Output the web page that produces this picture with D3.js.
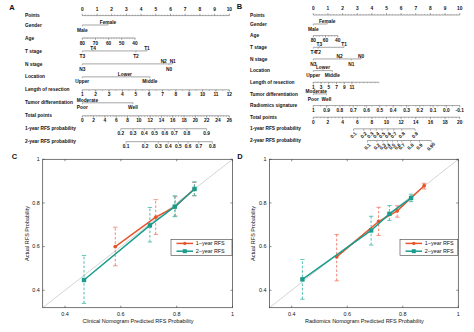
<!DOCTYPE html>
<html>
<head>
<meta charset="utf-8">
<script src="https://cdn.jsdelivr.net/npm/d3@7"></script>
<style>
body { margin: 0; background: #fff; }
svg { display: block; }
text { font-family: "Liberation Sans", Arial, sans-serif; fill: #111; }
</style>
</head>
<body>
<div id="chart"></div>
<script>
const width = 474, height = 332;

// ---------- panel A : clinical nomogram ----------
const aPointLabels = [0, 1, 2, 3, 4, 5, 6, 7, 8, 9, 10];
const aGender = ["Male", "Female"];
const aGenderPts = [0, 1.75];
const aAgeLabels = [80, 70, 60, 50, 40];
const aAgePtsEnd = 3.58;           // points at age 40 (age 80 = 0)
const aTstage = ["T3", "T4", "T2", "T1"];
const aTstagePts = [0, 0.73, 3.65, 4.4];
const aNstage = ["N3", "N2", "N0", "N1"];
const aNstagePts = [0, 5.54, 5.9, 6.15];
const aLocation = ["Upper", "Lower", "Middle"];
const aLocationPts = [0, 2.9, 4.6];
const aLengthLabels = [1, 2, 3, 4, 5, 6, 7, 8, 9, 10, 11, 12];
const aDiff = ["Poor", "Moderate", "Well"];
const aDiffPts = [0, 0.35, 3.45];
const aTotalLabels = [0, 2, 4, 6, 8, 10, 12, 14, 16, 18, 20, 22, 24, 26];
const aRfs1Labels = ["0.2", "0.3", "0.4", "0.5", "0.6", "0.7", "0.8", "0.9"];
const aRfs1Total = [6.8, 8.98, 10.96, 12.8, 14.6, 16.3, 18.5, 22.0];
const aRfs2Labels = ["0.1", "0.2", "0.3", "0.4", "0.5", "0.6", "0.7", "0.8"];
const aRfs2Total = [7.73, 11.1, 13.45, 15.2, 17.0, 18.7, 20.6, 23.0];

// ---------- panel B : radiomics nomogram ----------
const bPointLabels = [0, 1, 2, 3, 4, 5, 6, 7, 8, 9, 10];
const bGender = ["Male", "Female"];
const bGenderPts = [0, 0.95];
const bAgeLabels = [80, 60, 40];
const bAgePtsEnd = 1.67;
const bTstage = ["T4", "T2", "T3", "T1"];
const bTstagePts = [0, 0.33, 0.41, 2.1];
const bNstage = ["N3", "N2", "N1", "N0"];
const bNstagePts = [0, 1.8, 2.6, 3.27];
const bLocation = ["Upper", "Lower", "Middle"];
const bLocationPts = [0, 0.66, 1.3];
const bLengthLabels = [1, 3, 5, 7, 9, 11];
const bLengthMax = 18.5;          // axis end (length) and its points
const bLengthPtsEnd = 4.62;
const bDiff = ["Poor", "Moderate", "Well"];
const bDiffPts = [0, 0.2, 0.9];
const bRadLabels = ["1", "0.9", "0.8", "0.7", "0.6", "0.5", "0.4", "0.3", "0.2", "0.1", "0.0", "-0.1"];
const bTotalLabels = [0, 2, 4, 6, 8, 10, 12, 14, 16, 18, 20];
const bRfs1Labels = ["0.1", "0.2", "0.3", "0.4", "0.5", "0.6", "0.7", "0.8", "0.9"];
const bRfs1Total = [5.5, 6.9, 7.8, 8.6, 9.4, 10.2, 11.0, 12.1, 13.9];
const bRfs2Labels = ["0.1", "0.2", "0.3", "0.4", "0.5", "0.6", "0.7", "0.8", "0.9", "0.95"];
const bRfs2Total = [7.4, 8.7, 9.5, 10.1, 10.8, 11.5, 12.1, 13.3, 14.5, 16.1];

// ---------- panels C, D : calibration ----------
const calTicks = [0.4, 0.6, 0.8, 1];
const calDomain = [0.32, 1];
const seriesNames = ["1\u2212year RFS", "2\u2212year RFS"];

const cPred1 = [0.58, 0.725, 0.795, 0.863];
const cObs1  = [0.60, 0.735, 0.783, 0.864];
const cLo1   = [0.512, 0.656, 0.74, 0.833];
const cHi1   = [0.689, 0.815, 0.829, 0.894];
const cPred2 = [0.468, 0.704, 0.793, 0.864];
const cObs2  = [0.447, 0.697, 0.783, 0.864];
const cLo2   = [0.34, 0.621, 0.737, 0.833];
const cHi2   = [0.559, 0.779, 0.833, 0.897];

const dPred1 = [0.562, 0.713, 0.78, 0.877];
const dObs1  = [0.553, 0.715, 0.764, 0.879];
const dLo1   = [0.443, 0.651, 0.735, 0.864];
const dHi1   = [0.655, 0.78, 0.787, 0.89];
const dPred2 = [0.4385, 0.686, 0.752, 0.83];
const dObs2  = [0.45, 0.674, 0.75, 0.823];
const dLo2   = [0.359, 0.607, 0.72, 0.806];
const dHi2   = [0.541, 0.739, 0.788, 0.84];

const svg = d3.select("#chart").append("svg")
  .attr("width", width)
  .attr("height", height)
  .style("background", "#fff");

const axisCol = "#6a6a6a";
const nomoFont = 4.8;

// alternate label sides below/above in order of points
function altSides(n) { return d3.range(n).map(i => i % 2 ? "above" : "below"); }

function nomogram(cfg) {
  const g = svg.append("g");
  const px = d3.scaleLinear().domain([0, 10]).range([cfg.x0, cfg.x1]);
  const tx = d3.scaleLinear().domain([0, cfg.totalMax]).range([cfg.x0, cfg.x1]);
  const rowY = d3.scaleLinear().domain([1, cfg.rows.length - 1]).range(cfg.yRange);

  cfg.rows.forEach((r, i) => {
    const y = i === 0 ? cfg.pointsY : rowY(i);
    const sx = r.total ? tx : px;

    g.append("text")
      .attr("x", cfg.labelX).attr("y", y + 1.6)
      .attr("font-size", nomoFont).attr("font-weight", "bold")
      .text(r.name);

    const all = r.pts.concat(r.minor || []);
    const lo = d3.min(all), hi = d3.max(all);
    g.append("line")
      .attr("x1", sx(lo)).attr("x2", sx(hi))
      .attr("y1", y).attr("y2", y)
      .attr("stroke", axisCol).attr("stroke-width", 0.6);

    if (r.minor) {
      const dir = r.side === "above" ? -1 : 1;
      g.selectAll(null).data(r.minor).join("line")
        .attr("x1", d => sx(d)).attr("x2", d => sx(d))
        .attr("y1", y).attr("y2", y + dir * 1.1)
        .attr("stroke", axisCol).attr("stroke-width", 0.4);
    }

    r.pts.forEach((p, k) => {
      const side = r.sides ? r.sides[k] : r.side;
      const dir = side === "above" ? -1 : 1;
      g.append("line")
        .attr("x1", sx(p)).attr("x2", sx(p))
        .attr("y1", y).attr("y2", y + dir * (r.sides ? 1.4 : 2))
        .attr("stroke", axisCol).attr("stroke-width", 0.5);
      const t = g.append("text")
        .attr("font-size", nomoFont).attr("font-weight", "bold")
        .attr("text-anchor", "middle")
        .text(r.labels[k]);
      if (r.rotate) {
        const ly = y + 6.2;
        t.attr("x", sx(p)).attr("y", ly + 1.5)
          .attr("transform", `rotate(-45,${sx(p)},${ly})`);
      } else if (side === "above") {
        t.attr("x", sx(p)).attr("y", y - (r.sides ? 1.2 : 5));
      } else {
        t.attr("x", sx(p)).attr("y", y + 6.6);
      }
    });
  });
}

function minorFrom(scale, step, n) { return d3.range(0, n + 1e-9, step).map(scale); }

// ----- build panel A rows -----
const aAgeScale = d3.scaleLinear().domain([80, 40]).range([0, aAgePtsEnd]);
const aLenScale = d3.scaleLinear().domain([1, 12]).range([0, 10]);
const aRows = [
  { name: "Points", pts: aPointLabels, labels: aPointLabels, side: "above", minor: d3.range(0, 10.001, 0.2) },
  { name: "Gender", pts: aGenderPts, labels: aGender, sides: altSides(2) },
  { name: "Age", pts: aAgeLabels.map(aAgeScale), labels: aAgeLabels, side: "below", minor: d3.range(80, 39.9, -2).map(aAgeScale) },
  { name: "T stage", pts: aTstagePts, labels: aTstage, sides: altSides(4) },
  { name: "N stage", pts: aNstagePts, labels: aNstage, sides: altSides(4) },
  { name: "Location", pts: aLocationPts, labels: aLocation, sides: altSides(3) },
  { name: "Length of resection", pts: aLengthLabels.map(aLenScale), labels: aLengthLabels, side: "below", minor: d3.range(1, 12.01, 0.5).map(aLenScale) },
  { name: "Tumor differentiation", pts: aDiffPts, labels: aDiff, sides: altSides(3) },
  { name: "Total points", pts: aTotalLabels, labels: aTotalLabels, side: "below", total: true, minor: d3.range(0, 26.01, 0.5) },
  { name: "1-year RFS probability", pts: aRfs1Total, labels: aRfs1Labels, side: "below", total: true },
  { name: "2-year RFS probability", pts: aRfs2Total, labels: aRfs2Labels, side: "below", total: true }
];
nomogram({ rows: aRows, labelX: 25, x0: 82.3, x1: 229.3, totalMax: 26, pointsY: 15.6, yRange: [25, 141.7] });

// ----- build panel B rows -----
const bAgeScale = d3.scaleLinear().domain([80, 40]).range([0, bAgePtsEnd]);
const bLenScale = d3.scaleLinear().domain([1, bLengthMax]).range([0, bLengthPtsEnd]);
const bRadScale = d3.scaleLinear().domain([1, -0.1]).range([0, 10]);
const bRows = [
  { name: "Points", pts: bPointLabels, labels: bPointLabels, side: "above", minor: d3.range(0, 10.001, 0.2) },
  { name: "Gender", pts: bGenderPts, labels: bGender, sides: altSides(2) },
  { name: "Age", pts: bAgeLabels.map(bAgeScale), labels: bAgeLabels, side: "below", minor: d3.range(80, 39.9, -5).map(bAgeScale) },
  { name: "T stage", pts: bTstagePts, labels: bTstage, sides: ["below", "below", "above", "above"] },
  { name: "N stage", pts: bNstagePts, labels: bNstage, sides: altSides(4) },
  { name: "Location", pts: bLocationPts, labels: bLocation, sides: altSides(3) },
  { name: "Length of resection", pts: bLengthLabels.map(bLenScale), labels: bLengthLabels, side: "below", minor: d3.range(1, bLengthMax + 0.01, 1).map(bLenScale) },
  { name: "Tumor differentiation", pts: bDiffPts, labels: bDiff, sides: altSides(3) },
  { name: "Radiomics signature", pts: bRadLabels.map(v => bRadScale(+v)), labels: bRadLabels, side: "below", minor: d3.range(0, 10.001, 0.5) },
  { name: "Total points", pts: bTotalLabels, labels: bTotalLabels, side: "below", total: true, minor: d3.range(0, 20.01, 0.5) },
  { name: "1-year RFS probability", pts: bRfs1Total, labels: bRfs1Labels, side: "below", total: true, rotate: true },
  { name: "2-year RFS probability", pts: bRfs2Total, labels: bRfs2Labels, side: "below", total: true, rotate: true }
];
nomogram({ rows: bRows, labelX: 250, x0: 313.3, x1: 459.7, totalMax: 20, pointsY: 15, yRange: [24, 140.5] });

// ----- calibration plots -----
const red = "#e8542c", redErr = "#ef7a62";
const teal = "#1a9c8c", tealErr = "#3fb6a6";

function calib(cfg) {
  const g = svg.append("g");
  const x = d3.scaleLinear().domain(calDomain).range([cfg.left, cfg.right]);
  const y = d3.scaleLinear().domain(calDomain).range([cfg.bottom, cfg.top]);

  g.append("line")
    .attr("x1", x(calDomain[0])).attr("y1", y(calDomain[0]))
    .attr("x2", x(calDomain[1])).attr("y2", y(calDomain[1]))
    .attr("stroke", "#c9c9c9").attr("stroke-width", 0.8);

  g.append("rect")
    .attr("x", cfg.left).attr("y", cfg.top)
    .attr("width", cfg.right - cfg.left).attr("height", cfg.bottom - cfg.top)
    .attr("fill", "none").attr("stroke", "#3c3c3c").attr("stroke-width", 0.7);

  // inward ticks on all four sides
  calTicks.forEach(t => {
    g.append("line").attr("x1", x(t)).attr("x2", x(t)).attr("y1", cfg.bottom).attr("y2", cfg.bottom - 2).attr("stroke", "#3c3c3c").attr("stroke-width", 0.6);
    g.append("line").attr("x1", x(t)).attr("x2", x(t)).attr("y1", cfg.top).attr("y2", cfg.top + 2).attr("stroke", "#3c3c3c").attr("stroke-width", 0.6);
    g.append("line").attr("y1", y(t)).attr("y2", y(t)).attr("x1", cfg.left).attr("x2", cfg.left + 2).attr("stroke", "#3c3c3c").attr("stroke-width", 0.6);
    g.append("line").attr("y1", y(t)).attr("y2", y(t)).attr("x1", cfg.right).attr("x2", cfg.right - 2).attr("stroke", "#3c3c3c").attr("stroke-width", 0.6);
    const lab = d3.format(".1f")(t).replace("1.0", "1");
    g.append("text").attr("x", x(t)).attr("y", cfg.bottom + 8.6)
      .attr("text-anchor", "middle").attr("font-size", 5.4).text(lab);
    g.append("text").attr("x", cfg.left - 3).attr("y", y(t) + 1.9)
      .attr("text-anchor", "end").attr("font-size", 5.4).text(lab);
  });

  g.append("text")
    .attr("x", (cfg.left + cfg.right) / 2 + 0.5).attr("y", cfg.bottom + 15.2)
    .attr("text-anchor", "middle").attr("font-size", 5.5).text(cfg.xTitle);
  const cy = (cfg.top + cfg.bottom) / 2;
  g.append("text")
    .attr("transform", `translate(${cfg.left - 14.2},${cy}) rotate(-90)`)
    .attr("text-anchor", "middle").attr("font-size", 5.5).text("Actual RFS Probability");

  cfg.series.forEach(s => {
    // dashed error bars with caps
    s.pred.forEach((p, k) => {
      g.append("line").attr("x1", x(p)).attr("x2", x(p))
        .attr("y1", y(s.lo[k])).attr("y2", y(s.hi[k]))
        .attr("stroke", s.err).attr("stroke-width", 0.9).attr("stroke-dasharray", "2.6,1.8");
      [s.lo[k], s.hi[k]].forEach(v => {
        g.append("line").attr("x1", x(p) - 2.2).attr("x2", x(p) + 2.2)
          .attr("y1", y(v)).attr("y2", y(v))
          .attr("stroke", s.err).attr("stroke-width", 0.8);
      });
    });
  });

  cfg.series.forEach(s => {
    const pts = s.pred.map((p, k) => [x(p), y(s.obs[k])]);
    g.append("path").attr("d", d3.line()(pts))
      .attr("fill", "none").attr("stroke", s.color).attr("stroke-width", 1.5);
    pts.forEach(([px, py]) => {
      if (s.marker === "circle") {
        g.append("circle").attr("cx", px).attr("cy", py).attr("r", 1.9).attr("fill", s.color);
      } else {
        g.append("rect").attr("x", px - 2.2).attr("y", py - 2.2).attr("width", 4.4).attr("height", 4.4).attr("fill", s.color);
      }
    });
  });

  // legend
  const lg = g.append("g");
  lg.append("rect")
    .attr("x", cfg.legX).attr("y", 239.5).attr("width", cfg.right - 0.5 - cfg.legX).attr("height", 16)
    .attr("fill", "#fff").attr("stroke", "#3c3c3c").attr("stroke-width", 0.6);
  cfg.series.forEach((s, k) => {
    const ly = 243.4 + k * 7.8;
    lg.append("line").attr("x1", cfg.legX + 5.5).attr("x2", cfg.legX + 22)
      .attr("y1", ly).attr("y2", ly).attr("stroke", s.color).attr("stroke-width", 1.5);
    if (s.marker === "circle") {
      lg.append("circle").attr("cx", cfg.legX + 13.8).attr("cy", ly).attr("r", 1.6).attr("fill", s.color);
    } else {
      lg.append("rect").attr("x", cfg.legX + 11.8).attr("y", ly - 2).attr("width", 4).attr("height", 4).attr("fill", s.color);
    }
    lg.append("text").attr("x", cfg.legX + 24.8).attr("y", ly + 1.9)
      .attr("font-size", 5.4).text(seriesNames[k]);
  });
}

calib({
  left: 42.7, right: 232.5, top: 159.3, bottom: 307.7, legX: 171,
  xTitle: "Clinical Nomogram Predicted RFS Probability",
  series: [
    { pred: cPred1, obs: cObs1, lo: cLo1, hi: cHi1, color: red, err: redErr, marker: "circle" },
    { pred: cPred2, obs: cObs2, lo: cLo2, hi: cHi2, color: teal, err: tealErr, marker: "square" }
  ]
});
calib({
  left: 269.5, right: 458.3, top: 159.3, bottom: 307.7, legX: 400,
  xTitle: "Radiomics Nomogram Predicted RFS Probability",
  series: [
    { pred: dPred1, obs: dObs1, lo: dLo1, hi: dHi1, color: red, err: redErr, marker: "circle" },
    { pred: dPred2, obs: dObs2, lo: dLo2, hi: dHi2, color: teal, err: tealErr, marker: "square" }
  ]
});

// panel letters
[["A", 12, 10], ["B", 239.5, 8.5], ["C", 14.5, 158.5], ["D", 240, 158.5]].forEach(([t, x, y]) => {
  svg.append("text").attr("x", x).attr("y", y).attr("text-anchor", "middle")
    .attr("font-size", 7.5).attr("font-weight", "bold").text(t);
});
</script>
</body>
</html>
